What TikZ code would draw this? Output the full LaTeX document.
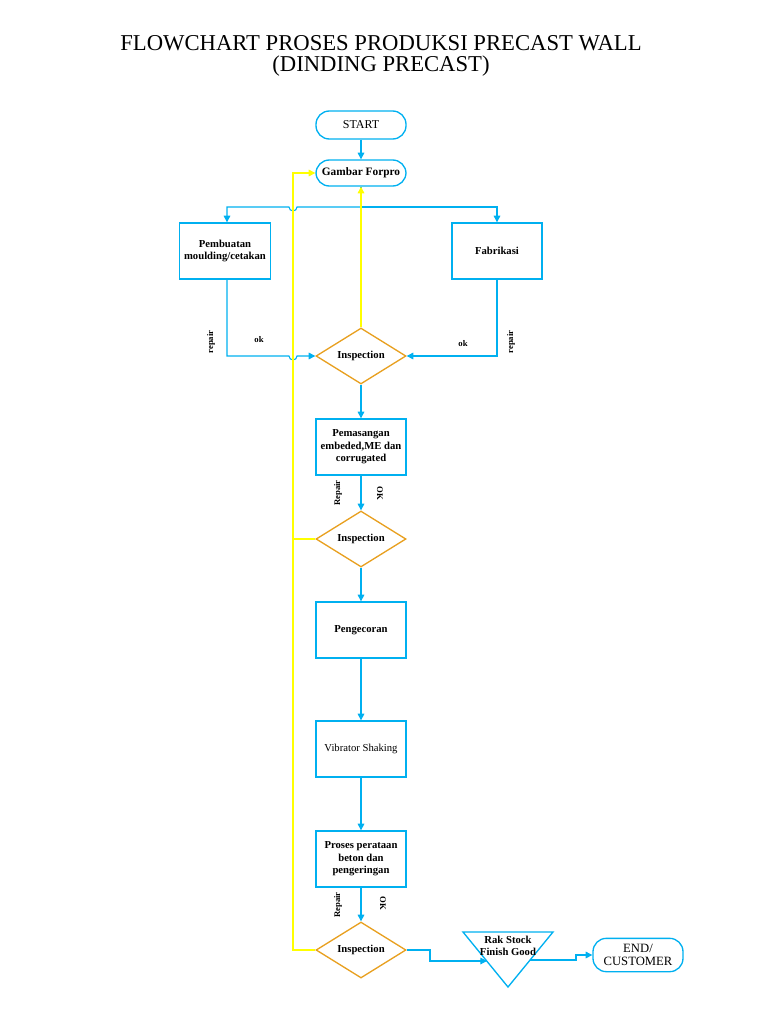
\documentclass[tikz,border=0pt]{standalone}
\usepackage{fontspec}
\setmainfont{Liberation Serif}
\usetikzlibrary{shapes.geometric,arrows.meta}
\definecolor{bl}{HTML}{00B0F0}
\definecolor{ye}{HTML}{FFFF00}
\definecolor{orr}{HTML}{E8A020}
\begin{document}
\begin{tikzpicture}[x=0.75pt,y=-0.75pt,
  box/.style={draw=bl,line width=1pt,minimum width=67.5pt,minimum height=42pt,align=center,font=\fontsize{8}{9.5}\selectfont\bfseries},
  term/.style={draw=bl,line width=1pt,rounded corners=10pt,minimum width=67.5pt,align=center,font=\fontsize{9}{10}\selectfont},
  dia/.style={draw=orr,line width=1pt,diamond,aspect=1.6,minimum width=67.5pt,minimum height=42pt,inner sep=0pt,font=\fontsize{8}{9}\selectfont\bfseries},
  ba/.style={draw=bl,line width=0.8pt,-{Triangle[length=5pt,width=5pt]}},
  bl0/.style={draw=bl,line width=0.8pt},
  ya/.style={draw=ye,line width=0.8pt,-{Triangle[length=5pt,width=5pt]}},
  lab/.style={font=\fontsize{6.5}{8}\selectfont\bfseries}]
\useasboundingbox (0,0) rectangle (768,1024);
\node[font=\fontsize{17}{20}\selectfont] (t1) at (381,43) {FLOWCHART PROSES PRODUKSI PRECAST WALL};
\node[font=\fontsize{17}{20}\selectfont] (t2) at (381,66) {(DINDING PRECAST)};
\node[term,minimum height=21pt] (start) at (361,125) {START};
\node[term,minimum height=19.5pt,font=\fontsize{8.5}{10}\selectfont\bfseries] (gam) at (361,173) {Gambar Forpro};
\node[box] (pem) at (225,251) {Pembuatan\\moulding/cetakan};
\node[box] (fab) at (497,251) {Fabrikasi};
\node[dia] (i1) at (361,356) {Inspection};
\node[box] (pms) at (361,447) {Pemasangan\\embeded,ME dan\\corrugated};
\node[dia] (i2) at (361,539) {Inspection};
\node[box] (pgc) at (361,630) {Pengecoran};
\node[box,font=\fontsize{8}{9}\selectfont] (vib) at (361,749) {Vibrator Shaking};
\node[box] (ppr) at (361,859) {Proses perataan\\beton dan\\pengeringan};
\node[dia] (i3) at (361,950) {Inspection};
\draw[draw=bl,line width=1pt] (463,932) -- (553,932) -- (508,987) -- cycle;
\node[align=center,font=\fontsize{8}{8.5}\selectfont\bfseries] (rak) at (508,946) {Rak Stock\\Finish Good};
\coordinate (rakL) at (487,961);
\coordinate (rakR) at (530,960);
\node[term,minimum height=25pt,font=\fontsize{9.5}{10}\selectfont] (end) at (638,955) {END/\\CUSTOMER};
% connectors
\draw[ba] (start) -- (gam);
\coordinate (br) at (361,207);
\draw[bl0] (gam) -- (br);
\draw[ba] (br) -- (297,207) arc (0:180:4) -- (227,207) -- (pem.north -| 227,0);
\draw[ba] (br) -- (497,207) -- (fab.north);
\draw[ba] (pem.south -| 227,0) -- (227,356) -- (289,356) arc (180:0:4) -- (i1.west);
\draw[ba] (fab.south) -- (497,356) -- (i1.east);
\draw[ya] (i1.north) -- (gam.south);
\draw[ba] (i1) -- (pms);
\draw[ba] (pms) -- (i2);
\draw[ba] (i2) -- (pgc);
\draw[ba] (pgc) -- (vib);
\draw[ba] (vib) -- (ppr);
\draw[ba] (ppr) -- (i3);
\draw[ya] (i3.west) -- (293,950) -- (293,173) -- (gam.west);
\draw[draw=ye,line width=0.8pt] (i2.west) -- (293,539);
\draw[ba] (i3.east) -- (430,950) -- (430,961) -- (rakL);
\draw[ba] (rakR) -- (576,960) -- (576,955) -- (end.west);
% labels
\node[lab,rotate=90] (r1) at (211,342) {repair};
\node[lab] (o1) at (259,340) {ok};
\node[lab] (o2) at (463,344) {ok};
\node[lab,rotate=90] (r2) at (511,342) {repair};
\node[lab,rotate=90] (r3) at (338,493) {Repair};
\node[lab,rotate=-90] (o3) at (380,493) {OK};
\node[lab,rotate=90] (r4) at (338,905) {Repair};
\node[lab,rotate=-90] (o4) at (383,903) {OK};
\end{tikzpicture}
\end{document}
